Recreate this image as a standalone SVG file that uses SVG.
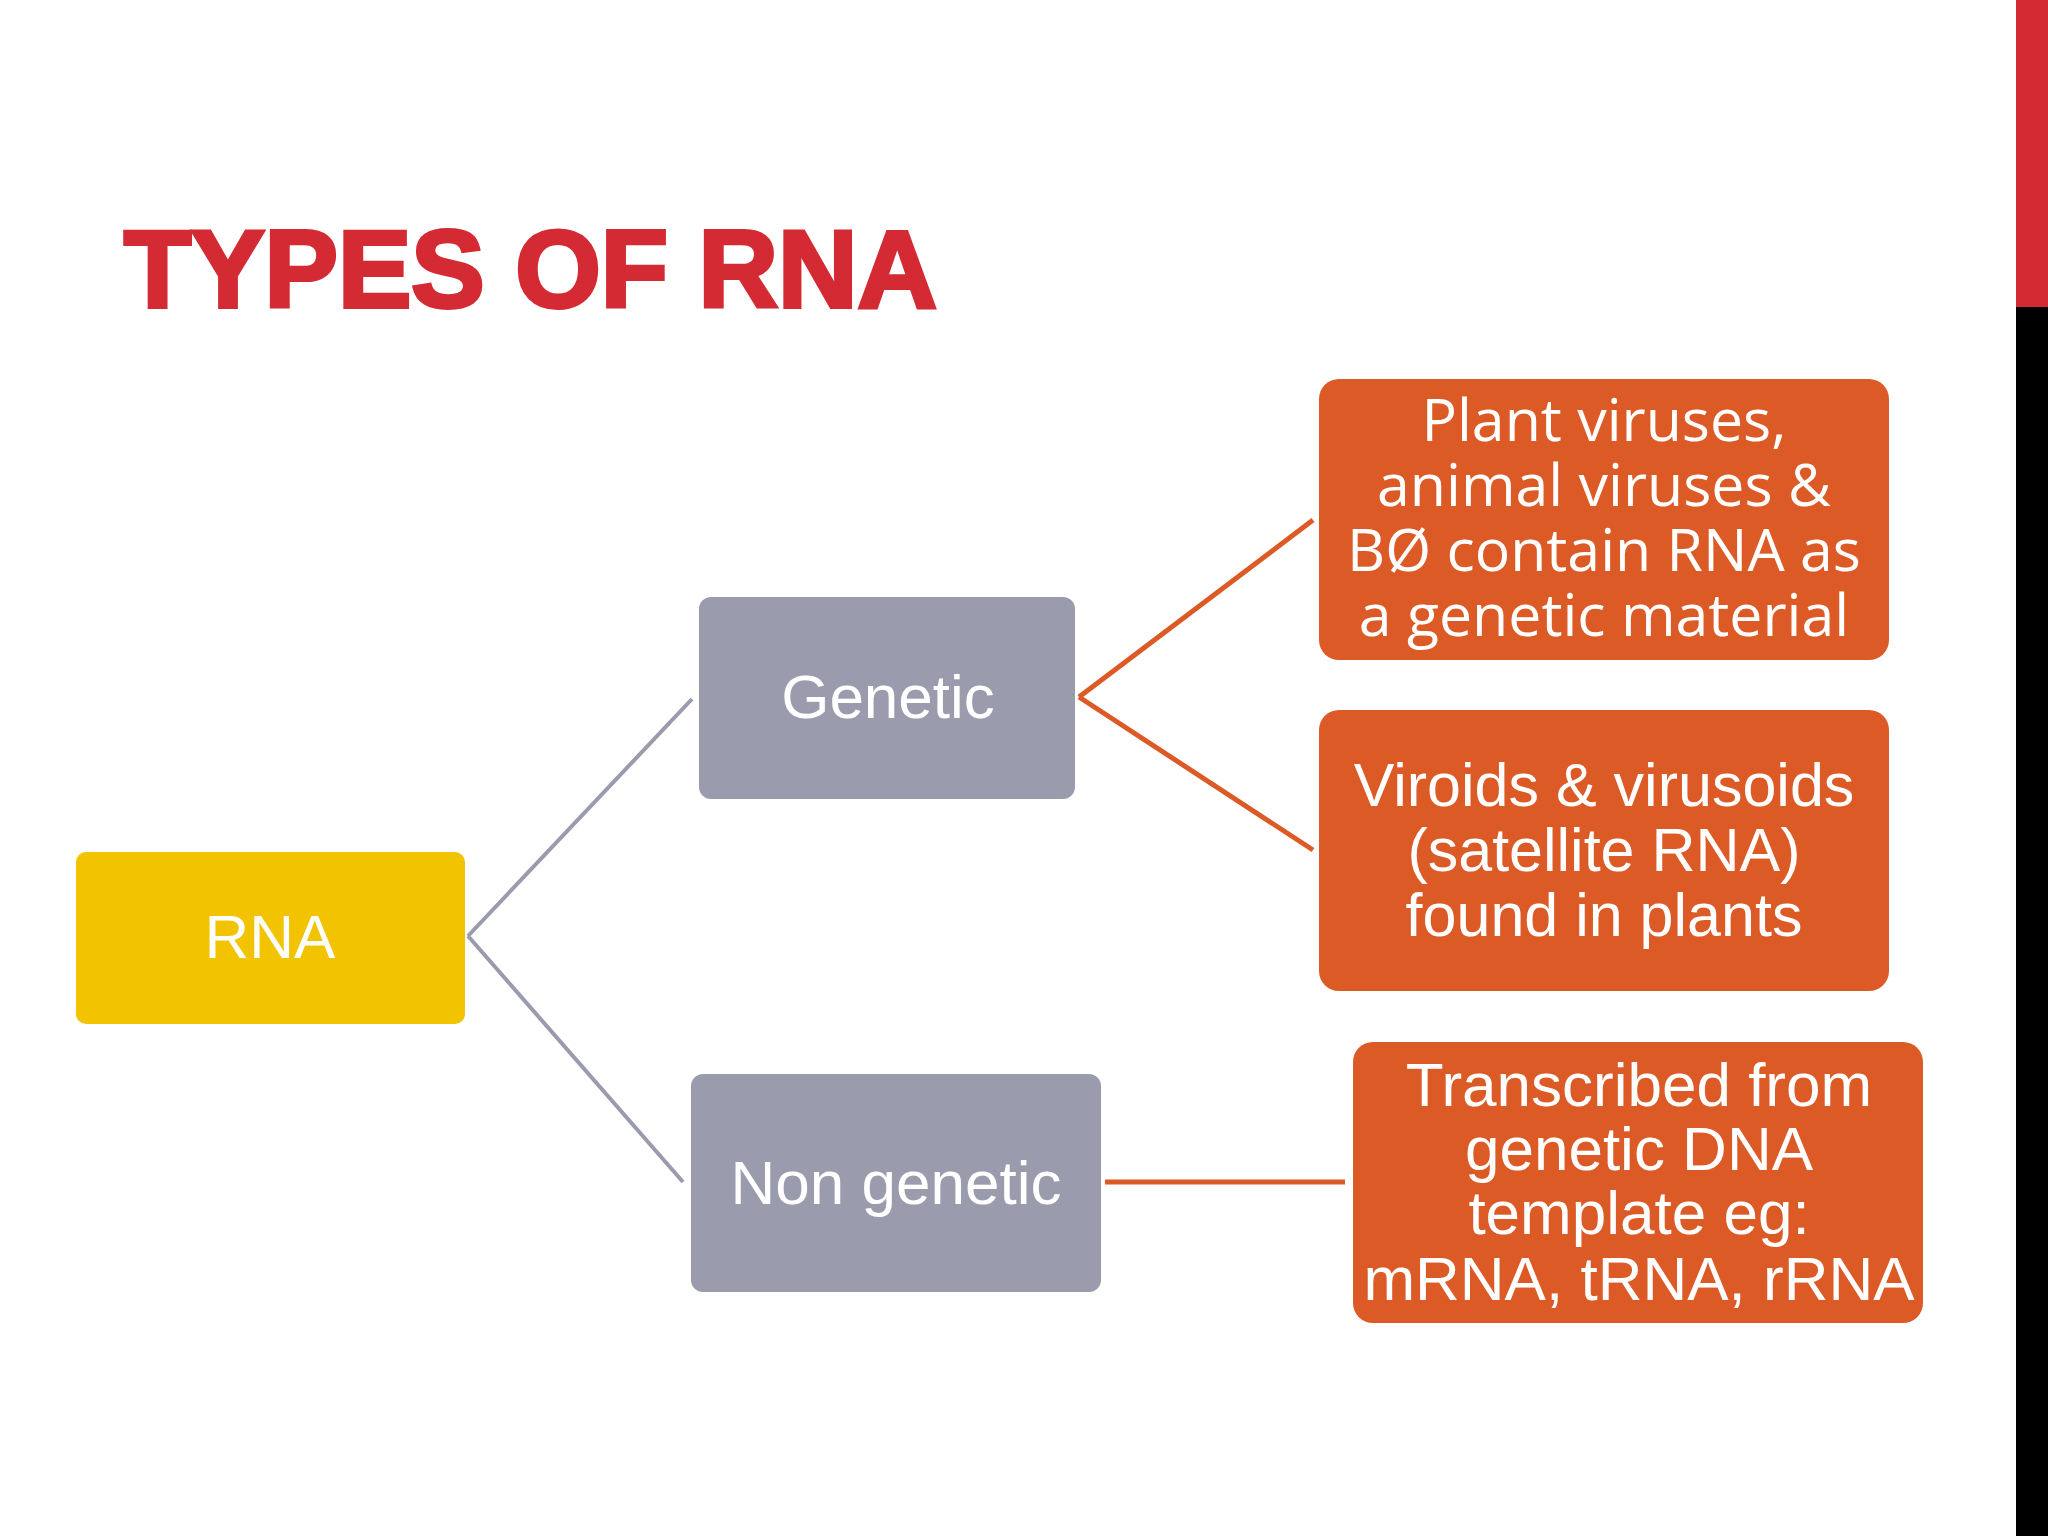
<svg xmlns="http://www.w3.org/2000/svg" width="2048" height="1536" viewBox="0 0 2048 1536">
<style>
.t{font-family:"Liberation Sans",Arial,sans-serif;fill:#fff;text-anchor:middle}
.o{fill:#DC5A26}
.g{fill:#9A9BAD}
.cg{stroke:#9A9BAD;stroke-width:4;fill:none}
.co{stroke:#DC5A26;stroke-width:5;fill:none}
</style>
<rect width="2048" height="1536" fill="#fff"/>
<rect x="2016" y="0" width="32" height="307" fill="#D42A33"/>
<rect x="2016" y="307" width="32" height="1229" fill="#000"/>
<text x="124" y="307" font-family="Liberation Sans,Arial,sans-serif" font-weight="bold" font-size="110" fill="#D42A33" stroke="#D42A33" stroke-width="4">TYPES OF RNA</text>
<g id="connectors">
<path class="cg" d="M468 936L692 699M468 936L683 1182"/>
<path class="co" d="M1079 697L1313 520M1079 697L1313 850M1105 1182L1345 1182"/>
</g>
<g id="rna"><rect x="76" y="852" width="389" height="172" rx="10" fill="#F2C300"/><text class="t" x="270" y="958" font-size="62">RNA</text></g>
<g id="genetic"><rect class="g" x="699" y="597" width="376" height="202" rx="12"/><text class="t" x="888" y="718" font-size="62">Genetic</text></g>
<g id="nongenetic"><rect class="g" x="691" y="1074" width="410" height="218" rx="12"/><text class="t" x="896" y="1204" font-size="62">Non genetic</text></g>
<g id="plant"><rect class="o" x="1319" y="379" width="570" height="281" rx="20"/>
<text class="t" font-size="59" style="font-family:'Open Sans','Liberation Sans',sans-serif"><tspan x="1604" y="441">Plant viruses,</tspan><tspan x="1604" y="506">animal viruses &amp;</tspan><tspan x="1604" y="571">BØ contain RNA as</tspan><tspan x="1604" y="636">a genetic material</tspan></text></g>
<g id="viroids"><rect class="o" x="1319" y="710" width="570" height="281" rx="20"/>
<text class="t" font-size="61"><tspan x="1604" y="806">Viroids &amp; virusoids</tspan><tspan x="1604" y="871">(satellite RNA)</tspan><tspan x="1604" y="936">found in plants</tspan></text></g>
<g id="transcribed"><rect class="o" x="1353" y="1042" width="570" height="281" rx="20"/>
<text class="t" font-size="62"><tspan x="1639" y="1106">Transcribed from</tspan><tspan x="1639" y="1170">genetic DNA</tspan><tspan x="1639" y="1234">template eg:</tspan><tspan x="1639" y="1300">mRNA, tRNA, rRNA</tspan></text></g>
</svg>
